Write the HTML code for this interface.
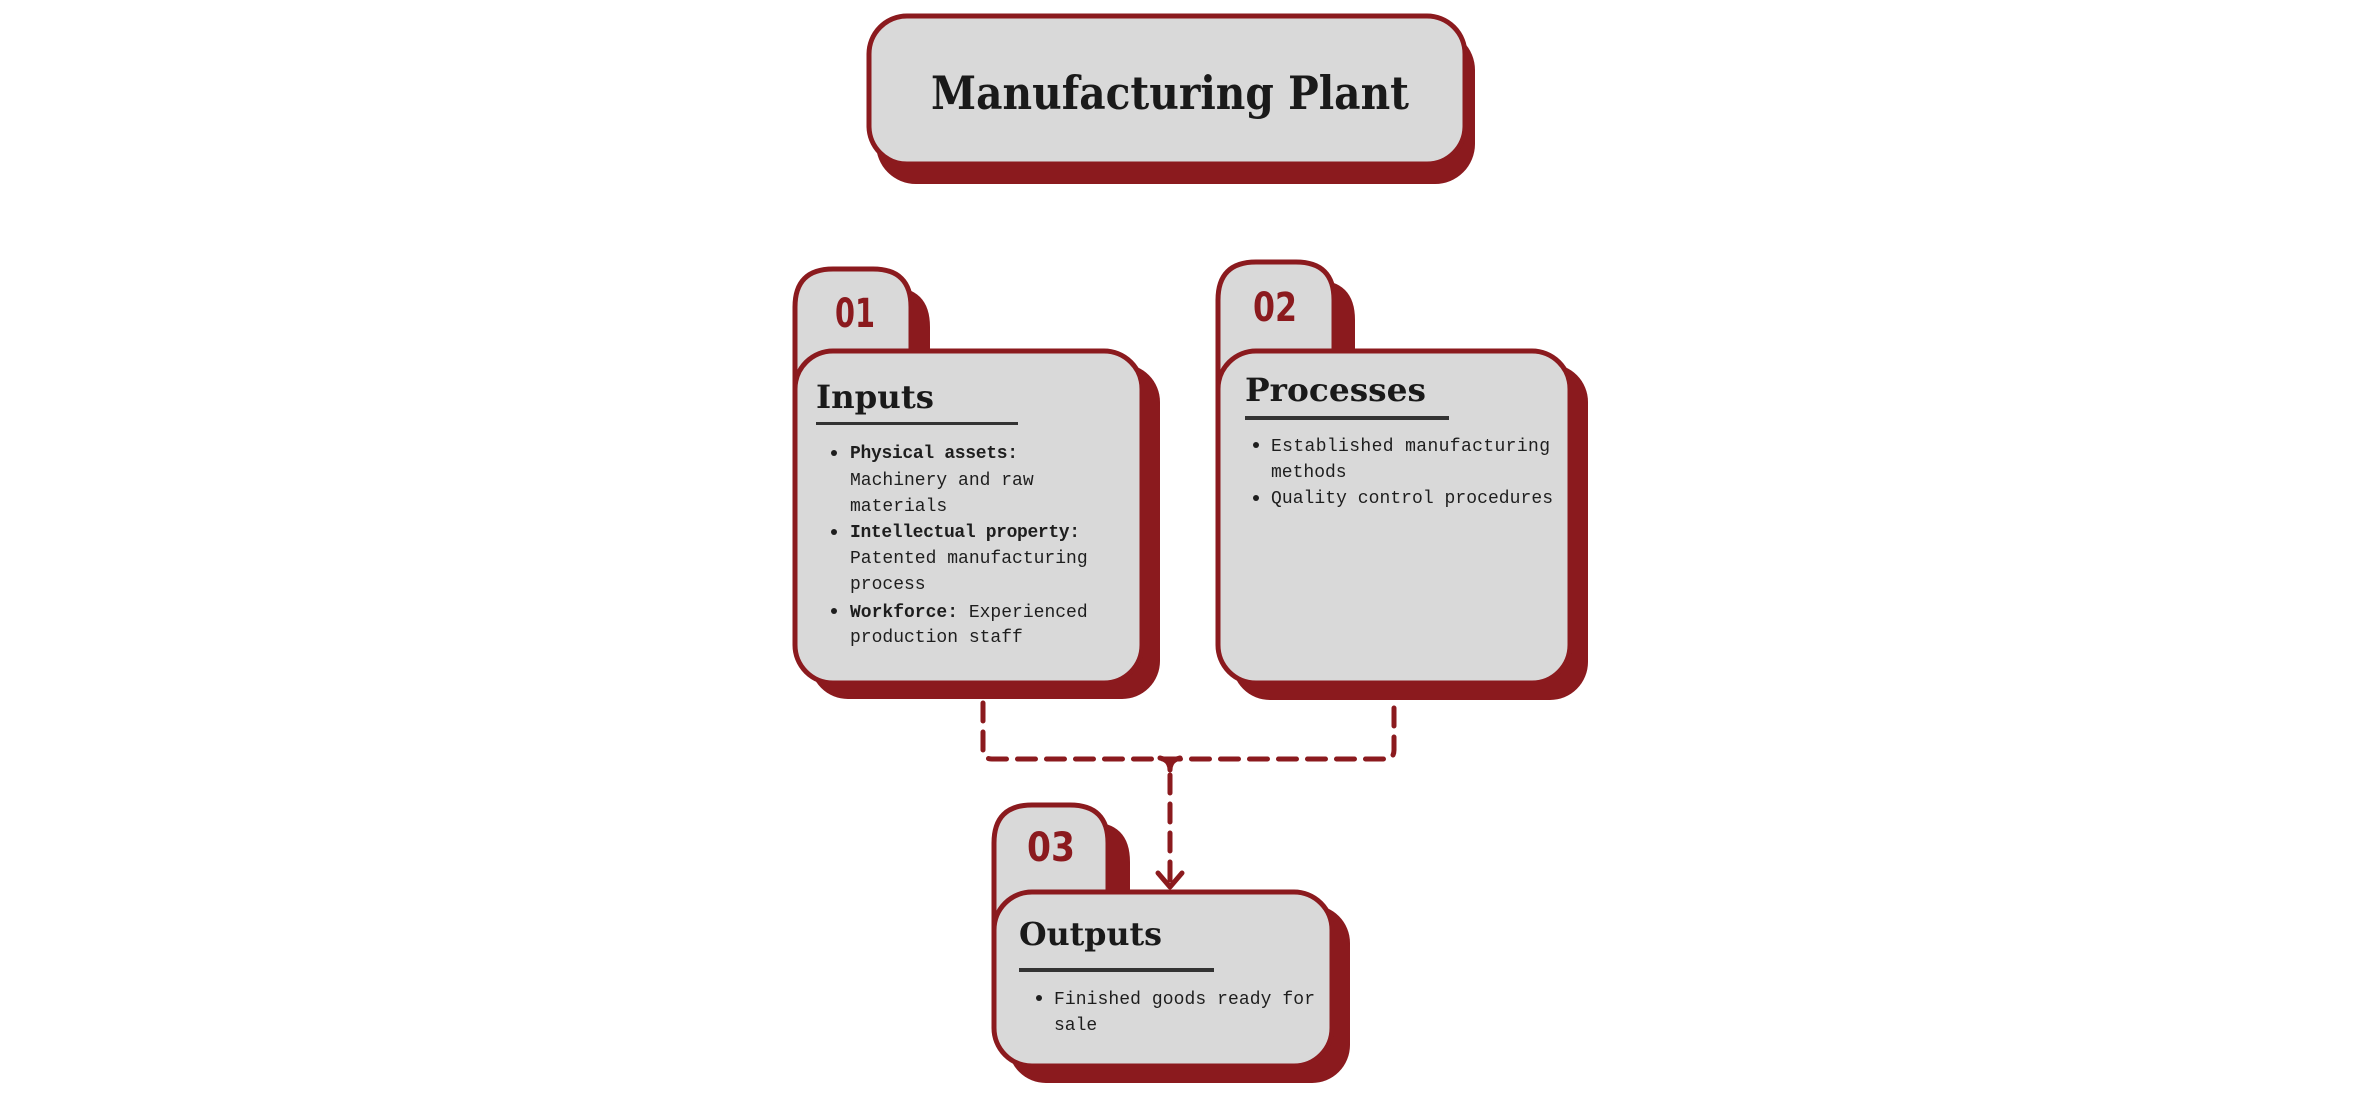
<!DOCTYPE html>
<html><head><meta charset="utf-8"><style>
html,body{margin:0;padding:0;background:#fff;}
svg{display:block;}
.t{font-family:"Liberation Mono",monospace;font-size:18px;fill:#1e1e1e;}
.b{font-weight:bold;}
.h{font-family:"DejaVu Serif","Liberation Serif",serif;font-weight:bold;fill:#1a1a1a;}
.n{font-family:"DejaVu Sans","Liberation Sans",sans-serif;font-weight:bold;fill:#8b1a1e;}
</style></head><body>
<svg width="2364" height="1094" viewBox="0 0 2364 1094" xmlns="http://www.w3.org/2000/svg">
<g fill="#8b1a1e">
<rect x="876" y="30" width="599" height="154" rx="40"/>
<path d="M805 420 V327 Q805 287 845 287 H890 Q930 287 930 327 V420 Z"/>
<rect x="810" y="364" width="350" height="335" rx="38"/>
<path d="M1230 420 V320 Q1230 280 1270 280 H1315 Q1355 280 1355 320 V420 Z"/>
<rect x="1232" y="364" width="356" height="336" rx="38"/>
<path d="M1006 960 V862 Q1006 822 1046 822 H1090 Q1130 822 1130 862 V960 Z"/>
<rect x="1008" y="905" width="342" height="178" rx="38"/>
</g>
<g fill="#d9d9d9" stroke="#8b1a1e" stroke-width="5">
<rect x="869" y="16" width="596" height="148" rx="38"/>
<path d="M795 440 V307 Q795 269 833 269 H873 Q911 269 911 307 V440 Z"/>
<rect x="795" y="351" width="347" height="332" rx="38"/>
<path d="M1218 440 V300 Q1218 262 1256 262 H1296 Q1334 262 1334 300 V440 Z"/>
<rect x="1218" y="351" width="352" height="332" rx="38"/>
<path d="M994 980 V843 Q994 805 1032 805 H1070 Q1108 805 1108 843 V980 Z"/>
<rect x="994" y="892" width="338" height="174" rx="38"/>
</g>
<text class="h" x="1170" y="109" font-size="46" text-anchor="middle" textLength="478" lengthAdjust="spacingAndGlyphs">Manufacturing Plant</text>
<text class="n" x="835" y="327" font-size="40" textLength="40" lengthAdjust="spacingAndGlyphs">01</text>
<text class="n" x="1253" y="321" font-size="40" textLength="44" lengthAdjust="spacingAndGlyphs">02</text>
<text class="n" x="1027" y="861" font-size="40" textLength="48" lengthAdjust="spacingAndGlyphs">03</text>
<text class="h" x="816" y="408" font-size="32" textLength="118" lengthAdjust="spacingAndGlyphs">Inputs</text>
<rect x="816" y="422" width="202" height="3" fill="#333"/>
<text class="h" x="1245" y="401" font-size="32" textLength="181" lengthAdjust="spacingAndGlyphs">Processes</text>
<rect x="1245" y="416" width="204" height="4" fill="#333"/>
<text class="h" x="1019" y="945" font-size="32" textLength="143" lengthAdjust="spacingAndGlyphs">Outputs</text>
<rect x="1019" y="968" width="195" height="4" fill="#333"/>
<g fill="#1e1e1e">
<circle cx="834" cy="453" r="3"/><circle cx="834" cy="532" r="3"/><circle cx="834" cy="611" r="3"/>
<circle cx="1256" cy="445" r="3"/><circle cx="1256" cy="498" r="3"/>
<circle cx="1039" cy="998" r="3"/>
</g>
<text class="t b" x="850" y="458" textLength="168">Physical assets:</text>
<text class="t" x="850" y="485">Machinery and raw</text>
<text class="t" x="850" y="511">materials</text>
<text class="t b" x="850" y="537" textLength="230">Intellectual property:</text>
<text class="t" x="850" y="563">Patented manufacturing</text>
<text class="t" x="850" y="589">process</text>
<text class="t" x="850" y="617"><tspan class="b">Workforce:</tspan> Experienced</text>
<text class="t" x="850" y="642">production staff</text>
<text class="t" x="1271" y="451" textLength="279">Established manufacturing</text>
<text class="t" x="1271" y="477">methods</text>
<text class="t" x="1271" y="503" textLength="282">Quality control procedures</text>
<text class="t" x="1054" y="1004" textLength="261">Finished goods ready for</text>
<text class="t" x="1054" y="1030">sale</text>
<g fill="none" stroke="#8b1a1e" stroke-width="5" stroke-linecap="round" stroke-linejoin="round">
<path d="M983 703 V750 Q983 759 992 759 H1385 Q1394 759 1394 750 V703" stroke-dasharray="18 11"/>
<path d="M1170 775 V885" stroke-dasharray="18 11"/>
<path d="M1160 758 Q1170 760 1170 770 Q1170 760 1180 758"/>
<path d="M1158 873 L1170 887 L1182 873"/>
</g>
</svg>
</body></html>
